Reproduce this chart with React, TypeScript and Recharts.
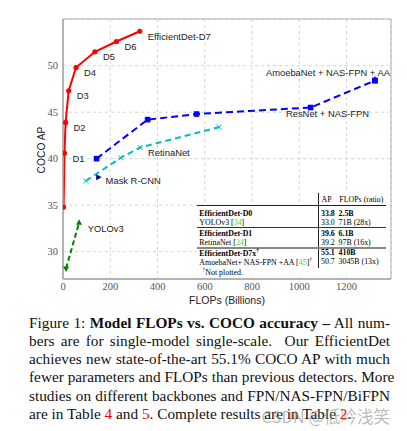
import React from "react";
import {
  ComposedChart,
  Line,
  XAxis,
  YAxis,
  CartesianGrid,
  ReferenceArea,
  LabelList,
} from "recharts";

// EfficientDet D0..D7
const effFlops = [2.5, 6.1, 11, 24, 55, 135, 226, 325];
const effAP = [34.8, 40.6, 43.9, 47.3, 49.8, 51.5, 52.6, 53.7];
const effNames = ["", "D1", "D2", "D3", "D4", "D5", "D6", "EfficientDet-D7"];

// ResNet + NAS-FPN (last point is AmoebaNet)
const nasFlops = [142, 358, 565, 1048, 1320];
const nasAP = [40.0, 44.2, 44.8, 45.5, 48.4];
const nasNames = ["", "", "", "ResNet + NAS-FPN", ""];

const amoebaFlops = [1320];
const amoebaAP = [48.4];
const amoebaNames = ["AmoebaNet + NAS-FPN + AA"];

const retinaFlops = [96, 245, 326, 661];
const retinaAP = [37.6, 40.1, 41.2, 43.4];
const retinaNames = ["", "", "RetinaNet", ""];

const maskFlops = [149];
const maskAP = [38.0];
const maskNames = ["Mask R-CNN"];

const yoloFlops = [13, 68];
const yoloAP = [28.2, 33.1];
const yoloNames = ["", "YOLOv3"];

const xTicks = [0, 200, 400, 600, 800, 1000, 1200];
const yTicks = [30, 35, 40, 45, 50];
const X_MAX = 1388;
const Y_MIN = 27.06;
const Y_MAX = 55.02;

// inset table
const tableHead = ["AP", "FLOPs (ratio)"];
const tableModels = [
  "EfficientDet-D0",
  "YOLOv3",
  "EfficientDet-D1",
  "RetinaNet",
  "EfficientDet-D7x",
  "AmoebaNet+ NAS-FPN +AA",
];
const tableCites = ["", "34", "", "24", "", "45"];
const tableDagger = [false, false, false, false, true, true];
const tableAP = ["33.8", "33.0", "39.6", "39.2", "55.1", "50.7"];
const tableFlops = ["2.5B", "71B (28x)", "6.1B", "97B (16x)", "410B", "3045B (13x)"];
const tableBold = [true, false, true, false, true, false];

const zip = (xs: number[], ys: number[], names: string[]) =>
  xs.map((x, i) => ({ x, y: ys[i], name: names[i] }));

const SANS = "'Liberation Sans', Arial, sans-serif";
const SERIF = "'Liberation Serif', 'Times New Roman', serif";

const circleDot = (color: string) => (p: any) =>
  <circle key={p.index} cx={p.cx} cy={p.cy} r={2.6} fill={color} />;

const squareDot = (color: string) => (p: any) =>
  <rect key={p.index} x={p.cx - 2.8} y={p.cy - 2.8} width={5.6} height={5.6} fill={color} />;

const crossDot = (color: string) => (p: any) => (
  <g key={p.index} stroke={color} strokeWidth={1}>
    <line x1={p.cx - 2.5} y1={p.cy - 2.5} x2={p.cx + 2.5} y2={p.cy + 2.5} />
    <line x1={p.cx - 2.5} y1={p.cy + 2.5} x2={p.cx + 2.5} y2={p.cy - 2.5} />
  </g>
);

const triDot = (color: string, dir: "up" | "down" | "right") => (p: any) => {
  const { cx, cy } = p;
  const pts =
    dir === "up"
      ? `${cx},${cy - 3.5} ${cx - 3},${cy + 2} ${cx + 3},${cy + 2}`
      : dir === "down"
      ? `${cx},${cy + 3.5} ${cx - 3},${cy - 2} ${cx + 3},${cy - 2}`
      : `${cx + 3.5},${cy} ${cx - 2},${cy - 3} ${cx - 2},${cy + 3}`;
  return <polygon key={p.index} points={pts} fill={color} />;
};

const yoloDot = (p: any) =>
  p.index === 0 ? triDot("#008000", "down")(p) : triDot("#008000", "up")(p);

const label = (dx: number, dy: number, anchor: "start" | "end" = "start") => (p: any) => {
  if (!p.value) return null;
  return (
    <text
      key={p.index}
      x={p.x + dx}
      y={p.y + dy}
      textAnchor={anchor}
      dominantBaseline="central"
      fontFamily={SANS}
      fontSize={9.4}
      fill="#222"
    >
      {p.value}
    </text>
  );
};

function InsetTable() {
  const rowY = [212.7, 222.3, 232.7, 242.3, 252, 261.3];
  const text: React.CSSProperties = {
    position: "absolute",
    fontFamily: SERIF,
    fontSize: 7.9,
    lineHeight: "9px",
    color: "#000",
    whiteSpace: "nowrap",
    transform: "translateY(-50%)",
  };
  return (
    <>
      <div style={{ position: "absolute", left: 196, top: 206, width: 193, height: 70, background: "#fff" }} />
      <div style={{ position: "absolute", left: 316, top: 193, width: 73, height: 13, background: "#fff" }} />
      <div style={{ ...text, left: 321.5, top: 199.3 }}>{tableHead[0]}</div>
      <div style={{ ...text, left: 339.3, top: 199.3 }}>{tableHead[1]}</div>
      <div style={{ position: "absolute", left: 318, top: 193, width: 0.8, height: 75, background: "#222" }} />
      <div style={{ position: "absolute", left: 197, top: 204.5, width: 189, height: 1, background: "#222" }} />
      <div style={{ position: "absolute", left: 197, top: 227.3, width: 189, height: 0.8, background: "#333" }} />
      <div style={{ position: "absolute", left: 197, top: 247, width: 189, height: 1.5, background: "#888" }} />
      {tableModels.map((m, i) => (
        <React.Fragment key={m}>
          <div style={{ ...text, left: 199.3, top: rowY[i], fontWeight: tableBold[i] ? 700 : 400 }}>
            {m}
            {tableCites[i] && (
              <>
                {" ["}
                <span style={{ color: "#33dd33" }}>{tableCites[i]}</span>
                {"]"}
              </>
            )}
            {tableDagger[i] && <sup style={{ fontSize: 5.5 }}>†</sup>}
          </div>
          <div style={{ ...text, left: 321, top: rowY[i], fontWeight: tableBold[i] ? 700 : 400 }}>
            {tableAP[i]}
          </div>
          <div style={{ ...text, left: 338.5, top: rowY[i], fontWeight: tableBold[i] ? 700 : 400 }}>
            {tableFlops[i]}
          </div>
        </React.Fragment>
      ))}
      <div style={{ ...text, left: 202.5, top: 271 }}>
        <sup style={{ fontSize: 5.5 }}>†</sup>Not plotted.
      </div>
    </>
  );
}

const captionLines: React.ReactNode[] = [
  <>Figure 1: <b>Model FLOPs vs. COCO accuracy –</b> All num-</>,
  <>bers are for single-model single-scale. &nbsp;Our EfficientDet</>,
  <>achieves new state-of-the-art 55.1% COCO AP with much</>,
  <>fewer parameters and FLOPs than previous detectors. More</>,
  <>studies on different backbones and FPN/NAS-FPN/BiFPN</>,
];

export default function App() {
  return (
    <div style={{ position: "absolute", left: 0, top: 0, width: 407, height: 431, background: "#fff", overflow: "hidden" }}>
      <ComposedChart width={407} height={310} margin={{ top: 19, right: 16, bottom: 0, left: 0 }}>
        <CartesianGrid stroke="#d4d4d4" strokeDasharray="3 3" />
        <XAxis
          type="number"
          dataKey="x"
          domain={[0, X_MAX]}
          ticks={xTicks}
          allowDataOverflow
          height={31}
          tickSize={0}
          tickMargin={4}
          tickLine={false}
          axisLine={{ stroke: "#a8a8a8", strokeWidth: 1.5 }}
          tick={{ fontFamily: SERIF, fontSize: 10.5, fill: "#555" }}
          label={{ value: "FLOPs (Billions)", position: "insideBottom", offset: 6, fontFamily: SANS, fontSize: 10.5, fill: "#222" }}
        />
        <YAxis
          type="number"
          dataKey="y"
          domain={[Y_MIN, Y_MAX]}
          ticks={yTicks}
          allowDataOverflow
          width={63}
          tickSize={0}
          tickMargin={5}
          tickLine={false}
          axisLine={{ stroke: "#a8a8a8", strokeWidth: 1.5 }}
          tick={{ fontFamily: SERIF, fontSize: 10.5, fill: "#555" }}
          label={{
            content: () => (
              <text
                x={41.5}
                y={150}
                transform="rotate(-90 41.5 150)"
                textAnchor="middle"
                dominantBaseline="central"
                fontFamily={SANS}
                fontSize={10.3}
                fill="#222"
              >
                COCO AP
              </text>
            ),
          }}
        />
        <ReferenceArea x1={0} x2={X_MAX} y1={Y_MIN} y2={Y_MAX} fill="none" stroke="#b0b0b0" strokeWidth={1} />

        <Line
          data={zip(retinaFlops, retinaAP, retinaNames)}
          dataKey="y"
          stroke="#00bfbf"
          strokeWidth={2}
          strokeDasharray="6 4"
          dot={crossDot("#00bfbf")}
          isAnimationActive={false}
        >
          <LabelList dataKey="name" content={label(8, 5)} />
        </Line>
        <Line
          data={zip(nasFlops, nasAP, nasNames)}
          dataKey="y"
          stroke="#0000ff"
          strokeWidth={2}
          strokeDasharray="7 4"
          dot={squareDot("#0000ff")}
          isAnimationActive={false}
        >
          <LabelList dataKey="name" content={label(-24.7, 6.3)} />
        </Line>
        <Line
          data={zip(amoebaFlops, amoebaAP, amoebaNames)}
          dataKey="y"
          stroke="none"
          dot={(p: any) => (
            <g key={p.index}>
              {triDot("#e000e0", "up")({ ...p, cy: p.cy - 1.5 })}
              {squareDot("#0000ff")(p)}
            </g>
          )}
          isAnimationActive={false}
        >
          <LabelList dataKey="name" content={label(15, -8, "end")} />
        </Line>
        <Line
          data={zip(maskFlops, maskAP, maskNames)}
          dataKey="y"
          stroke="none"
          dot={triDot("#000080", "right")}
          isAnimationActive={false}
        >
          <LabelList dataKey="name" content={label(7.4, 3.3)} />
        </Line>
        <Line
          data={zip(yoloFlops, yoloAP, yoloNames)}
          dataKey="y"
          stroke="#008000"
          strokeWidth={2}
          strokeDasharray="5 3"
          dot={yoloDot}
          isAnimationActive={false}
        >
          <LabelList dataKey="name" content={label(8.7, 5.4)} />
        </Line>
        <Line
          data={zip(effFlops, effAP, effNames)}
          dataKey="y"
          stroke="#ff0000"
          strokeWidth={2}
          dot={circleDot("#ff0000")}
          isAnimationActive={false}
        >
          <LabelList dataKey="name" content={label(8, 5)} />
        </Line>
      </ComposedChart>

      <InsetTable />

      <div
        style={{
          position: "absolute",
          left: 29,
          top: 313.5,
          width: 361,
          fontFamily: SERIF,
          fontSize: 15.3,
          lineHeight: "18.3px",
          color: "#111",
        }}
      >
        {captionLines.map((ln, i) => (
          <div key={i} style={{ textAlign: "justify", textAlignLast: "justify", whiteSpace: "nowrap" }}>
            {ln}
          </div>
        ))}
        <div style={{ whiteSpace: "nowrap" }}>
          are in Table <span style={{ color: "#e00" }}>4</span> and <span style={{ color: "#e00" }}>5</span>. Complete
          results are in Table <span style={{ color: "#e00" }}>2</span>.
        </div>
      </div>
      <div
        style={{
          position: "absolute",
          right: 17,
          top: 404,
          fontFamily: "'Noto Sans CJK SC', sans-serif",
          fontSize: 16.5,
          color: "rgba(130,130,130,0.55)",
          whiteSpace: "nowrap",
        }}
      >
        CSDN @低吟浅笑
      </div>
    </div>
  );
}
